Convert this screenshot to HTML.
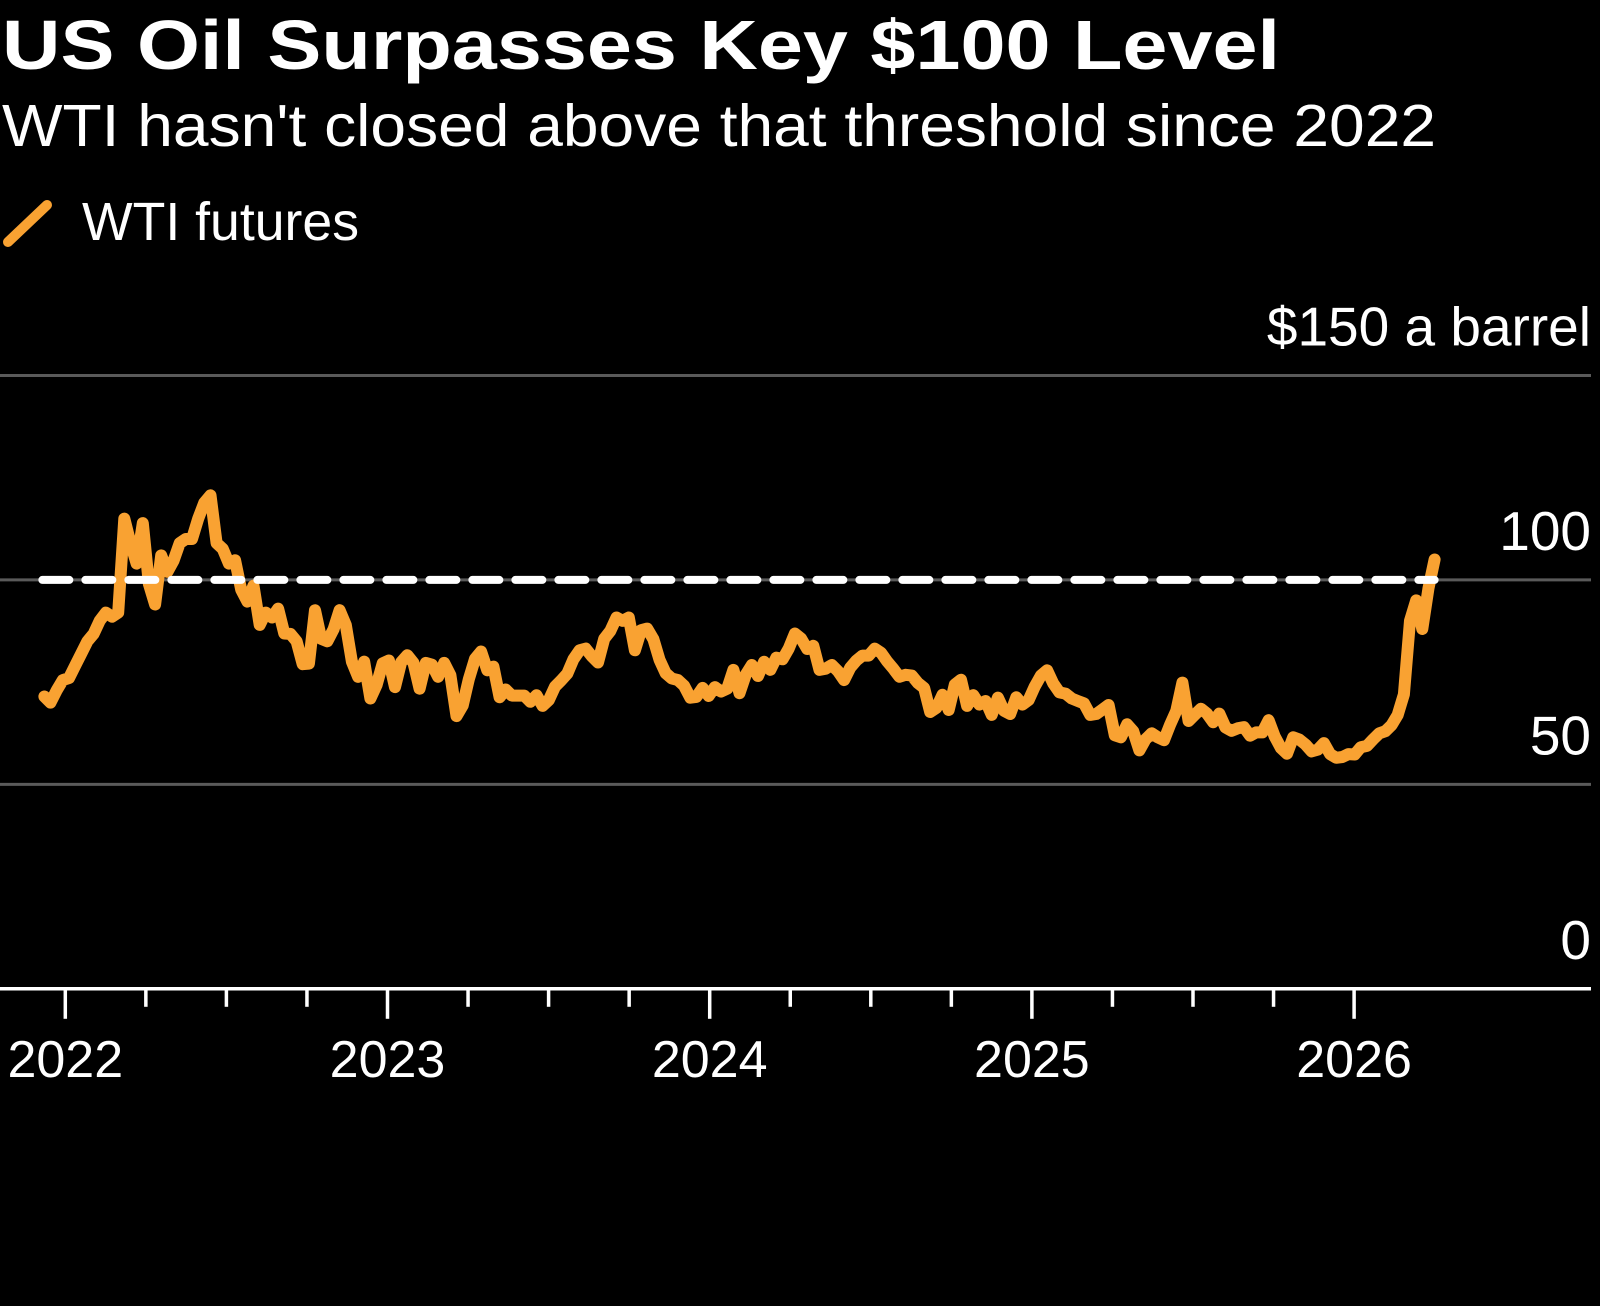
<!DOCTYPE html>
<html><head><meta charset="utf-8"><style>
html,body{margin:0;padding:0;background:#000;}
svg{display:block;}
text{font-family:"Liberation Sans",sans-serif;fill:#fff;}
</style></head><body>
<svg id="chart" width="1600" height="1306" viewBox="0 0 1600 1306" xmlns="http://www.w3.org/2000/svg">
<rect width="1600" height="1306" fill="#000"/>
<text x="2" y="69" font-size="70" font-weight="bold" textLength="1278" lengthAdjust="spacingAndGlyphs">US Oil Surpasses Key $100 Level</text>
<text x="2" y="146" font-size="59" textLength="1434" lengthAdjust="spacingAndGlyphs">WTI hasn't closed above that threshold since 2022</text>
<line x1="8" y1="242" x2="47" y2="205" stroke="#f9a232" stroke-width="10" stroke-linecap="round"/>
<text x="82" y="240" font-size="54" textLength="277" lengthAdjust="spacingAndGlyphs">WTI futures</text>
<g id="grid"></g>
<g id="series"></g>
<g id="xaxis"></g>
</svg>
<script>
const yTicks = [0, 50, 100, 150];
const yTickLabels = ["0", "50", "100", "$150 a barrel"];
const xTickYears = [2022, 2023, 2024, 2025, 2026];
const threshold = 100;
const startDate = 2021.935;
const endDate = 2026.25;
const wti = [
71.5,70,73,75.5,76,
79,82,85,86.8,
90,92,91,92,
115,109,104,113.9,
99,94,106,102,104.7,
109,110,110,115,
118.9,120.7,109,107.6,
104,104.8,97.6,94.7,98.6,
89,92,90.8,93,
86.9,86.8,85,79.4,79.5,
92.6,85.6,85,87.9,
92.6,89,80,76.3,
80,71,74.3,79.6,80.3,
73.8,79.9,81.6,79.7,
73.4,79.7,79.3,76.3,
79.7,76.7,66.7,69.3,75.7,
80.7,82.5,77.9,78.8,
71.3,73.2,71.7,71.7,
71.7,70.2,71.8,69.2,70.6,
73.9,75.4,77.1,80.6,
82.8,83.2,81.3,79.8,85.6,
87.5,90.8,90,90.8,
82.8,87.7,88.1,85.5,
80.5,77.2,75.9,75.5,
74.1,71.2,71.4,73.6,71.6,
73.8,72.7,73.4,78,
72.3,76.8,79.2,76.5,
79.97,78,81,80.6,83.2,
86.9,85.7,83.1,83.9,
78,78.3,79.2,77.7,
75.5,78.5,80.3,81.5,81.5,
83.2,82.2,80.1,78.3,
76.3,76.8,76.6,74.8,73.6,
67.7,68.7,71.9,68.2,
74.4,75.6,69.2,71.8,
69.5,70.4,67,71.2,68,
67.2,71.3,69.5,70.6,
73.96,76.6,77.9,74.7,72.5,
72.2,71,70.4,69.8,
67,67.2,68.3,69.4,
61.99,61.5,64.7,63,
58.3,61,62.5,61.5,60.8,
64.6,68,74.9,65.5,
67,68.5,67.3,65.2,
67.3,63.9,63.1,63.7,64,
61.9,62.7,62.7,65.7,
61.7,58.9,57.5,61.5,
60.98,59.75,58.06,58.5,
60.1,57.4,56.5,56.7,57.4,
57.3,59.1,59.4,61,
62.5,63,64.5,67,
72,90,95,88,98,105
];
const NS = "http://www.w3.org/2000/svg";
const y = v => 988.8 - v * 4.0887;
const x = t => 65.3 + (t - 2022) * 322.2;
const plotRight = 1591;
function mk(tag, attrs, parent) {
  const el = document.createElementNS(NS, tag);
  for (const k in attrs) el.setAttribute(k, attrs[k]);
  parent.appendChild(el);
  return el;
}
const grid = document.getElementById('grid');
yTicks.forEach((v, i) => {
  if (v !== 0) {
    const gl = mk('line', {x1: 0, x2: plotRight, y1: y(v), y2: y(v), stroke: '#5a5a5a', 'stroke-width': 3}, grid);
    
    
  }
  const t = mk('text', {x: plotRight, y: y(v) - 30, 'text-anchor': 'end', 'font-size': 55}, grid);
  t.textContent = yTickLabels[i];
  
  
});
const series = document.getElementById('series');
const n = wti.length;
const pts = wti.map((v, i) => {
  const t = startDate + (endDate - startDate) * i / (n - 1);
  return x(t).toFixed(1) + ',' + y(v).toFixed(1);
}).join(' ');
const line = mk('polyline', {points: pts, fill: 'none', stroke: '#f9a232', 'stroke-width': 12, 'stroke-linejoin': 'round', 'stroke-linecap': 'round'}, series);


const dash = mk('line', {x1: x(startDate) - 2, x2: x(endDate), y1: y(threshold), y2: y(threshold), stroke: '#fff', 'stroke-width': 8, 'stroke-dasharray': '27 16', 'stroke-linecap': 'round'}, series);


const xa = document.getElementById('xaxis');
const axis = mk('line', {x1: 0, x2: plotRight, y1: y(0), y2: y(0), stroke: '#fff', 'stroke-width': 3.5}, xa);


for (let q = 0; q <= 16; q++) {
  const t = 2022 + q / 4;
  const major = q % 4 === 0;
  const tk = mk('line', {x1: x(t), x2: x(t), y1: y(0), y2: y(0) + (major ? 30 : 18), stroke: '#fff', 'stroke-width': 3.5}, xa);
  
  
}
xTickYears.forEach(yr => {
  const t = mk('text', {x: x(yr), y: 1077, 'text-anchor': 'middle', 'font-size': 52}, xa);
  t.textContent = String(yr);
  
  
});
</script>
</body></html>
